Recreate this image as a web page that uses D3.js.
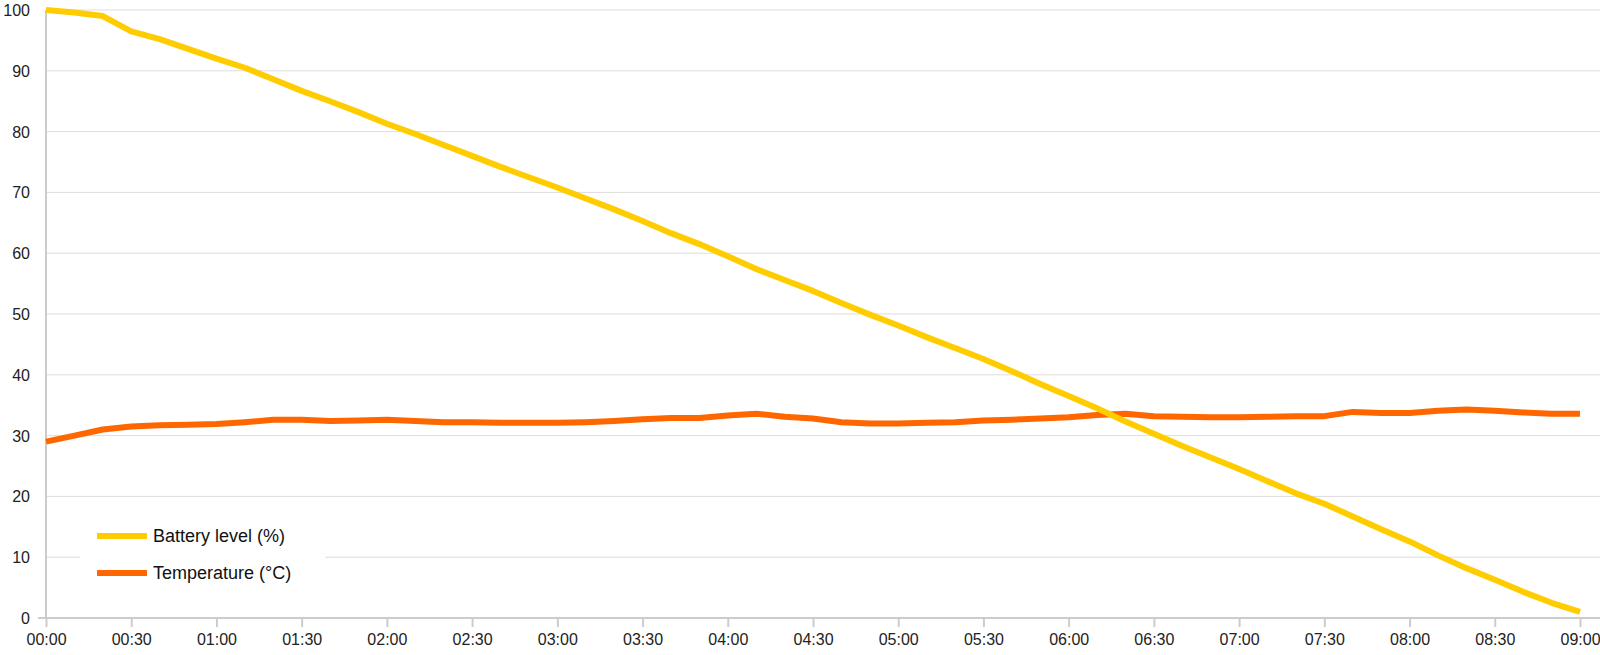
<!DOCTYPE html>
<html><head><meta charset="utf-8">
<script src="https://cdn.jsdelivr.net/npm/d3@7"></script>
<style>body{margin:0;background:#fff}svg{display:block;font-family:Arial,"Liberation Sans",sans-serif}</style>
</head><body><svg id="c" width="1600" height="655"></svg>
<script>
// minutes since 00:00, every 10 min
const minutes = d3.range(0, 541, 10);
const battery = [100,99.6,99,96.5,95.2,93.6,92,90.5,88.6,86.7,85,83.2,81.3,79.6,77.8,76,74.2,72.5,70.8,69,67.2,65.3,63.3,61.5,59.5,57.4,55.6,53.8,51.8,49.9,48.1,46.2,44.4,42.6,40.6,38.5,36.5,34.5,32.3,30.3,28.3,26.4,24.5,22.5,20.5,18.8,16.7,14.6,12.6,10.3,8.2,6.3,4.3,2.5,1];
const temperature = [29,30,31,31.5,31.7,31.8,31.9,32.2,32.6,32.6,32.4,32.5,32.6,32.4,32.2,32.2,32.1,32.1,32.1,32.2,32.4,32.7,32.9,32.9,33.3,33.6,33.1,32.8,32.2,32,32,32.1,32.2,32.5,32.6,32.8,33,33.4,33.6,33.2,33.1,33,33,33.1,33.2,33.2,33.9,33.7,33.7,34.1,34.3,34.1,33.8,33.6,33.6];
const yTicks = [0,10,20,30,40,50,60,70,80,90,100];
const xTicks = d3.range(0, 541, 30);
const seriesNames = ["Battery level (%)","Temperature (°C)"];
const colors = ["#ffcc00","#ff6600"];

const svg = d3.select("#c");
const x = d3.scaleLinear().domain([0,540]).range([46,1580]);
const y = d3.scaleLinear().domain([0,100]).range([618,10]);
const fmt = m => String(Math.floor(m/60)).padStart(2,"0")+":"+String(m%60).padStart(2,"0");

svg.append("g").selectAll("line").data(yTicks.filter(d=>d>0)).join("line")
  .attr("x1",46).attr("x2",1600).attr("y1",d=>y(d)).attr("y2",d=>y(d))
  .attr("stroke","#dddddd").attr("stroke-width",1);
svg.append("g").selectAll("text").data(yTicks).join("text")
  .attr("x",30).attr("y",d=>y(d)+6).attr("text-anchor","end")
  .attr("font-size",16).attr("fill","#222").text(d=>d);
svg.append("line").attr("x1",38).attr("x2",1600).attr("y1",618).attr("y2",618).attr("stroke","#cccccc").attr("stroke-width",2);
svg.append("line").attr("x1",46).attr("x2",46).attr("y1",10).attr("y2",618).attr("stroke","#cccccc").attr("stroke-width",2);
const xa = svg.append("g").attr("transform","translate(0,618)")
  .call(d3.axisBottom(x).tickValues(xTicks).tickFormat(fmt).tickSize(9).tickPadding(7));
xa.select(".domain").remove();
xa.selectAll("line").attr("stroke","#cccccc").attr("stroke-width",2);
xa.selectAll("text").attr("font-size",16).attr("fill","#222").attr("font-family","Arial,'Liberation Sans',sans-serif");

const line = d3.line().x((d,i)=>x(minutes[i])).y(d=>y(d));
svg.append("path").attr("d",line(temperature)).attr("fill","none")
  .attr("stroke",colors[1]).attr("stroke-width",6).attr("stroke-linejoin","round");
svg.append("path").attr("d",line(battery)).attr("fill","none")
  .attr("stroke",colors[0]).attr("stroke-width",6).attr("stroke-linejoin","round");

const lg = svg.append("g");
lg.append("rect").attr("x",80).attr("y",508).attr("width",245).attr("height",82).attr("fill","#fff");
seriesNames.forEach((n,i)=>{
  const cy = 536 + i*37;
  lg.append("line").attr("x1",97).attr("x2",147).attr("y1",cy).attr("y2",cy).attr("stroke",colors[i]).attr("stroke-width",6);
  lg.append("text").attr("x",153).attr("y",cy+6).attr("font-size",18).attr("fill","#111").text(n);
});
</script></body></html>
